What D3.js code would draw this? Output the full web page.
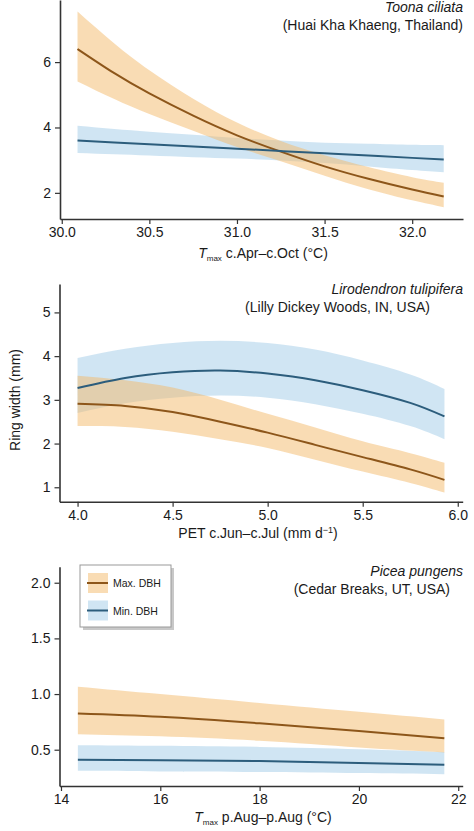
<!DOCTYPE html>
<html><head><meta charset="utf-8">
<script src="https://cdn.jsdelivr.net/npm/d3@7"></script>
<style>
html,body{margin:0;padding:0;background:#fff;}
svg{display:block;font-family:"Liberation Sans",Arial,Helvetica,sans-serif;}
</style></head>
<body>
<svg id="chart" width="474" height="831"></svg>
<script>
// ---------- Data ----------
// Panel A: Toona ciliata
const toonaX        = [30.09, 30.3, 30.5, 30.75, 31.0, 31.25, 31.5, 31.75, 32.0, 32.18];
const toonaMaxMean  = [6.40, 5.66, 5.04, 4.36, 3.76, 3.26, 2.81, 2.43, 2.10, 1.89];
const toonaMaxUpper = [7.55, 6.57, 5.75, 4.88, 4.15, 3.59, 3.15, 2.79, 2.48, 2.31];
const toonaMaxLower = [5.41, 4.87, 4.41, 3.90, 3.40, 2.97, 2.52, 2.11, 1.77, 1.56];
const toonaMinMean  = [3.60, 3.54, 3.49, 3.42, 3.35, 3.28, 3.21, 3.14, 3.07, 3.02];
const toonaMinUpper = [4.05, 3.95, 3.87, 3.78, 3.68, 3.60, 3.53, 3.50, 3.47, 3.46];
const toonaMinLower = [3.22, 3.18, 3.14, 3.09, 3.05, 2.99, 2.91, 2.81, 2.70, 2.63];
const toonaXTicks   = [30.0, 30.5, 31.0, 31.5, 32.0];
const toonaYTicks   = [2, 4, 6];

// Panel B: Lirodendron tulipifera
const liriX        = [4.0, 4.25, 4.5, 4.75, 5.0, 5.25, 5.5, 5.75, 5.93];
const liriMaxMean  = [2.91, 2.86, 2.72, 2.50, 2.25, 1.97, 1.69, 1.41, 1.17];
const liriMaxUpper = [3.55, 3.45, 3.28, 3.00, 2.68, 2.37, 2.05, 1.78, 1.56];
const liriMaxLower = [2.40, 2.38, 2.27, 2.10, 1.90, 1.63, 1.36, 1.10, 0.88];
const liriMinMean  = [3.27, 3.50, 3.63, 3.67, 3.60, 3.45, 3.22, 2.93, 2.62];
const liriMinUpper = [3.96, 4.17, 4.30, 4.35, 4.30, 4.15, 3.90, 3.58, 3.25];
const liriMinLower = [2.70, 2.92, 3.05, 3.10, 3.05, 2.90, 2.68, 2.40, 2.10];
const liriXTicks   = [4.0, 4.5, 5.0, 5.5, 6.0];
const liriYTicks   = [1, 2, 3, 4, 5];

// Panel C: Picea pungens
const piceaX        = [14.34, 16, 18, 20, 21.72];
const piceaMaxMean  = [0.826, 0.796, 0.737, 0.668, 0.602];
const piceaMaxUpper = [1.066, 1.00, 0.92, 0.84, 0.772];
const piceaMaxLower = [0.64, 0.62, 0.58, 0.52, 0.476];
const piceaMinMean  = [0.41, 0.405, 0.398, 0.38, 0.365];
const piceaMinUpper = [0.54, 0.535, 0.525, 0.505, 0.48];
const piceaMinLower = [0.31, 0.305, 0.30, 0.29, 0.28];
const piceaXTicks   = [14, 16, 18, 20, 22];
const piceaYTicks   = [0.5, 1.0, 1.5, 2.0];

const legendLabels = ["Max. DBH", "Min. DBH"];

// ---------- Styles ----------
const COL = {
  maxLine: "#8d561a", maxBand: "rgba(243,186,105,0.5)",
  minLine: "#2c5d7c", minBand: "rgba(150,198,228,0.45)",
  axis: "#333", text: "#1a1a1a"
};

const svg = d3.select("#chart");

function panel(cfg) {
  const g = svg.append("g");
  const x = d3.scaleLinear().domain(cfg.xDomain).range(cfg.xRange);
  const y = d3.scaleLinear().domain(cfg.yDomain).range(cfg.yRange);

  const mk = (xs, lo, hi) => xs.map((v, i) => ({x: v, lo: lo[i], hi: hi[i]}));
  const area = d3.area().x(d => x(d.x)).y0(d => y(d.lo)).y1(d => y(d.hi)).curve(d3.curveNatural);
  const line = d3.line().x(d => x(d.x)).y(d => y(d.m)).curve(d3.curveNatural);

  g.append("path").datum(mk(cfg.xs, cfg.minLower, cfg.minUpper)).attr("d", area).attr("fill", COL.minBand);
  g.append("path").datum(mk(cfg.xs, cfg.maxLower, cfg.maxUpper)).attr("d", area).attr("fill", COL.maxBand);
  g.append("path").datum(cfg.xs.map((v, i) => ({x: v, m: cfg.maxMean[i]}))).attr("d", line)
    .attr("fill", "none").attr("stroke", COL.maxLine).attr("stroke-width", 2);
  g.append("path").datum(cfg.xs.map((v, i) => ({x: v, m: cfg.minMean[i]}))).attr("d", line)
    .attr("fill", "none").attr("stroke", COL.minLine).attr("stroke-width", 2);

  const xAxis = g.append("g").attr("transform", `translate(0,${cfg.yRange[0]})`)
    .call(d3.axisBottom(x).tickValues(cfg.xTicks).tickFormat(cfg.xFmt).tickSize(5).tickSizeOuter(0).tickPadding(3));
  const yAxis = g.append("g").attr("transform", `translate(${cfg.xRange[0]},0)`)
    .call(d3.axisLeft(y).tickValues(cfg.yTicks).tickFormat(cfg.yFmt).tickSize(5).tickSizeOuter(0).tickPadding(4));
  [xAxis, yAxis].forEach(a => {
    a.select(".domain").attr("stroke", COL.axis).attr("stroke-width", 1.6);
    a.selectAll(".tick line").attr("stroke", COL.axis).attr("stroke-width", 1.2);
    a.selectAll(".tick text").attr("fill", COL.text).style("font-size", "14px")
      .style("font-family", '"Liberation Sans",Arial,sans-serif');
  });

  // Titles
  g.append("text").attr("x", 463).attr("y", cfg.titleY).attr("text-anchor", "end")
    .attr("font-style", "italic").attr("font-size", 14).attr("fill", COL.text).text(cfg.species);
  g.append("text").attr("x", cfg.siteX).attr("y", cfg.titleY + 17.5).attr("text-anchor", "end")
    .attr("font-size", 14).attr("fill", COL.text).text(cfg.site);

  // X axis label
  const lab = g.append("text").attr("x", cfg.labelX).attr("y", cfg.labelY).attr("text-anchor", "middle")
    .attr("font-size", 14).attr("fill", COL.text);
  cfg.label(lab);
  return {g, x, y};
}

function tmaxLabel(rest) {
  return t => {
    t.append("tspan").attr("font-style", "italic").text("T");
    t.append("tspan").attr("font-size", 8).attr("dy", 3).text("max");
    t.append("tspan").attr("dy", -3).text(" " + rest);
  };
}

panel({
  xs: toonaX, maxMean: toonaMaxMean, maxUpper: toonaMaxUpper, maxLower: toonaMaxLower,
  minMean: toonaMinMean, minUpper: toonaMinUpper, minLower: toonaMinLower,
  xDomain: [29.99, 32.29], xRange: [60, 463], yDomain: [1.2, 7.9], yRange: [219, 0],
  xTicks: toonaXTicks, yTicks: toonaYTicks, xFmt: d3.format(".1f"), yFmt: d3.format("d"),
  species: "Toona ciliata", site: "(Huai Kha Khaeng, Thailand)", titleY: 12, siteX: 463,
  labelX: 263, labelY: 258, label: tmaxLabel("c.Apr\u2013c.Oct (\u00B0C)")
});

panel({
  xs: liriX, maxMean: liriMaxMean, maxUpper: liriMaxUpper, maxLower: liriMaxLower,
  minMean: liriMinMean, minUpper: liriMinUpper, minLower: liriMinLower,
  xDomain: [3.905, 6.026], xRange: [59.5, 462.7], yDomain: [0.67, 5.65], yRange: [501.7, 284],
  xTicks: liriXTicks, yTicks: liriYTicks, xFmt: d3.format(".1f"), yFmt: d3.format("d"),
  species: "Lirodendron tulipifera", site: "(Lilly Dickey Woods, IN, USA)", titleY: 294, siteX: 430,
  labelX: 258, labelY: 538,
  label: t => {
    t.append("tspan").text("PET c.Jun\u2013c.Jul (mm d");
    t.append("tspan").attr("font-size", 9).attr("dy", -5).text("\u22121");
    t.append("tspan").attr("dy", 5).text(")");
  }
});

panel({
  xs: piceaX, maxMean: piceaMaxMean, maxUpper: piceaMaxUpper, maxLower: piceaMaxLower,
  minMean: piceaMinMean, minUpper: piceaMinUpper, minLower: piceaMinLower,
  xDomain: [13.97, 22.09], xRange: [59.5, 462.7], yDomain: [0.174, 2.144], yRange: [786, 566.7],
  xTicks: piceaXTicks, yTicks: piceaYTicks, xFmt: d3.format("d"), yFmt: d3.format(".1f"),
  species: "Picea pungens", site: "(Cedar Breaks, UT, USA)", titleY: 576, siteX: 450,
  labelX: 263, labelY: 822, label: tmaxLabel("p.Aug\u2013p.Aug (\u00B0C)")
});

// Y-axis title
svg.append("text").attr("transform", "translate(20,400) rotate(-90)").attr("text-anchor", "middle")
  .attr("font-size", 14).attr("fill", COL.text).text("Ring width (mm)");

// Legend
const lg = svg.append("g").attr("transform", "translate(80,565)");
lg.append("rect").attr("x", 3).attr("y", 3).attr("width", 91).attr("height", 62).attr("fill", "#c8c8c8");
lg.append("rect").attr("x", 0).attr("y", 0).attr("width", 91).attr("height", 62)
  .attr("fill", "#fff").attr("stroke", "#999").attr("stroke-width", 1);
const items = [
  {label: legendLabels[0], band: COL.maxBand, line: COL.maxLine},
  {label: legendLabels[1], band: COL.minBand, line: COL.minLine}
];
items.forEach((it, i) => {
  const yy = 8 + i * 27.5;
  lg.append("rect").attr("x", 8).attr("y", yy).attr("width", 20).attr("height", 20).attr("fill", it.band);
  lg.append("line").attr("x1", 7).attr("x2", 28).attr("y1", yy + 10).attr("y2", yy + 10)
    .attr("stroke", it.line).attr("stroke-width", 2);
  lg.append("text").attr("x", 33).attr("y", yy + 14).attr("font-size", 10.5).attr("fill", COL.text).text(it.label);
});
</script>
</body></html>
